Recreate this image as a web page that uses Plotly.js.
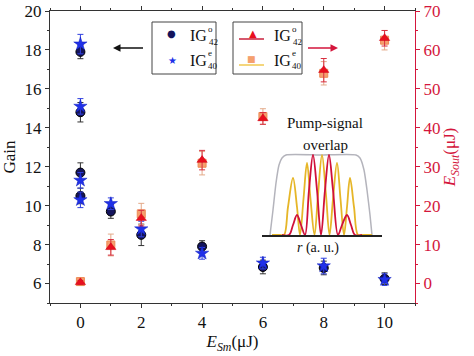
<!DOCTYPE html>
<html><head><meta charset="utf-8">
<script src="https://cdn.plot.ly/plotly-3.0.1.min.js"></script>
<style>html,body{margin:0;padding:0;background:#fff}#chart{width:474px;height:356px}</style>
</head><body><div id="chart"></div>
<script>
// ---- data ----
// Gain, left axis
const igO42_x   = [0, 0, 0, 0, 1, 2, 4, 6, 8, 10];
const igO42_y   = [17.9, 14.8, 11.7, 10.5, 9.7, 8.5, 7.9, 6.85, 6.8, 6.25];
const igO42_err = [0.35, 0.5, 0.5, 0.4, 0.35, 0.55, 0.3, 0.35, 0.35, 0.3];
const igE40_x   = [0, 0, 0, 0, 1, 2, 4, 6, 8, 10];
const igE40_y   = [18.3, 15.1, 11.3, 10.3, 10.1, 8.8, 7.55, 7.05, 6.9, 6.2];
const igE40_err = [0.5, 0.4, 0.4, 0.4, 0.3, 0.4, 0.3, 0.3, 0.4, 0.3];
// E_Sout (uJ), right axis
const eO42_x   = [0, 1, 2, 4, 6, 8, 10];
const eO42_y   = [0.3, 9.3, 16.8, 31.7, 42.4, 54.8, 63.0];
const eO42_err = [0.5, 2.0, 2.0, 2.5, 1.5, 3.0, 2.0];
const eE40_x   = [0, 1, 2, 4, 6, 8, 10];
const eE40_y   = [0.5, 9.9, 17.9, 30.9, 42.9, 54.0, 62.5];
const eE40_err = [0.8, 2.8, 2.7, 3.0, 2.0, 3.0, 2.5];
// tick values
const xTicks = [0, 2, 4, 6, 8, 10];
const yTicks = [6, 8, 10, 12, 14, 16, 18, 20];
const y2Ticks = [0, 10, 20, 30, 40, 50, 60, 70];
// Inset schematic (pump-signal overlap)
const pump_r = [270, 273, 276, 279, 282, 286, 320, 356, 360, 364, 367, 370, 372];
const pump_v = [0, 25, 52, 70, 77, 80, 80, 80, 77, 65, 45, 20, 0];
const sigE_r = [272, 280, 284, 288, 293, 297, 300, 303.5, 307, 310.5, 314.5, 318, 322, 326, 329.5, 333, 337, 340.5, 344, 347, 350, 354, 358, 362, 372];
const sigE_v = [0, 0, 0, 28, 57, 28, 0, 36, 72, 36, 0, 40, 80, 40, 0, 36, 72, 36, 0, 28, 57, 28, 0, 0, 0];
const sigO_r = [282, 289, 293, 297, 301, 305, 309, 313, 317, 321, 325, 329, 333, 338, 342, 347, 351, 355, 362];
const sigO_v = [0, 0, 10, 20, 10, 0, 45, 80, 45, 0, 45, 80, 45, 0, 10, 20, 10, 0, 0];

// ---- layout helpers (pixel -> paper) ----
const L = 50, R = 415, T = 11, B = 303;
const px = x => (x - L) / (R - L);
const py = y => (B - y) / (B - T);
const SERIF = '"Liberation Serif", "Times New Roman", Times, serif';
const RED = '#d4163c';

const traces = [
  {x: eE40_x, y: eE40_y, yaxis: 'y2', type: 'scatter', mode: 'markers',
   marker: {symbol: 'square', size: 8, color: '#f5a06e', line: {color: '#ee8a55', width: 1}},
   error_y: {type: 'data', array: eE40_err, color: '#e3a988', thickness: 1, width: 3}},
  {x: eO42_x, y: eO42_y, yaxis: 'y2', type: 'scatter', mode: 'markers',
   marker: {symbol: 'triangle-up', size: 9, color: '#e8101e', line: {color: '#d00018', width: 0.5}},
   error_y: {type: 'data', array: eO42_err, color: '#d83040', thickness: 1, width: 3}},
  {x: igO42_x, y: igO42_y, type: 'scatter', mode: 'markers',
   marker: {symbol: 'circle', size: 9, color: '#14145c', line: {color: '#000', width: 1}},
   error_y: {type: 'data', array: igO42_err, color: '#333', thickness: 1, width: 3}},
  {x: igE40_x, y: igE40_y, type: 'scatter', mode: 'markers',
   marker: {symbol: 'star', size: 10, color: '#2030e8', line: {color: '#1020c0', width: 0.5}},
   error_y: {type: 'data', array: igE40_err, color: '#3040e0', thickness: 1, width: 3}},
  // inset curves
  {x: pump_r, y: pump_v, xaxis: 'x3', yaxis: 'y3', type: 'scatter', mode: 'lines',
   line: {color: '#b4b4bc', width: 1.5, shape: 'spline', smoothing: 0.6}},
  {x: sigE_r, y: sigE_v, xaxis: 'x3', yaxis: 'y3', type: 'scatter', mode: 'lines',
   line: {color: '#e6b628', width: 1.8, shape: 'spline', smoothing: 1}},
  {x: sigO_r, y: sigO_v, xaxis: 'x3', yaxis: 'y3', type: 'scatter', mode: 'lines',
   line: {color: '#d0103a', width: 1.8, shape: 'spline', smoothing: 1}}
];

const ann = [];
function txt(x, y, text, size, color) {
  ann.push({xref: 'paper', yref: 'paper', x: px(x), y: py(y), text: text,
    showarrow: false, xanchor: 'center', yanchor: 'middle',
    font: {family: SERIF, size: size, color: color || '#111'}});
}
function glyph(x, y, g, size, color) {
  ann.push({xref: 'paper', yref: 'paper', x: px(x), y: py(y), text: g, showarrow: false,
    xanchor: 'center', yanchor: 'middle', font: {family: 'DejaVu Sans', size: size, color: color}});
}
// legend box 1
glyph(171, 34, '●', 10, '#14145c');
glyph(172, 60, '★', 10, '#2030e8');
txt(198, 35, 'IG', 16); txt(210, 29, 'o', 9); txt(213, 42, '42', 9);
txt(198, 60, 'IG', 16); txt(210, 53, 'e', 9); txt(213, 66, '40', 9);
// legend box 2
glyph(253, 34, '▲', 10, '#e8101e');
glyph(252, 59, '■', 9, '#f5a06e');
txt(282, 35, 'IG', 16); txt(294, 29, 'o', 9); txt(297, 42, '42', 9);
txt(282, 60, 'IG', 16); txt(294, 53, 'e', 9); txt(297, 66, '40', 9);
// arrows
ann.push({xref: 'paper', yref: 'paper', x: px(113), y: py(48), ax: 33, ay: 0, text: ' ',
  showarrow: true, arrowhead: 2, arrowsize: 1, arrowwidth: 1.5, arrowcolor: '#111'});
ann.push({xref: 'paper', yref: 'paper', x: px(338), y: py(48), ax: -33, ay: 0, text: ' ',
  showarrow: true, arrowhead: 2, arrowsize: 1, arrowwidth: 1.5, arrowcolor: RED});
// inset texts
txt(325, 123, 'Pump-signal', 15);
txt(325, 145, 'overlap', 15);
txt(318, 248, '<i>r</i> (a. u.)', 14);

const shapes = [
  {type: 'rect', xref: 'paper', yref: 'paper', x0: px(152), x1: px(216), y0: py(22), y1: py(74),
   line: {color: '#444', width: 1}},
  {type: 'rect', xref: 'paper', yref: 'paper', x0: px(233), x1: px(302), y0: py(22), y1: py(74),
   line: {color: '#444', width: 1}},
  {type: 'line', xref: 'paper', yref: 'paper', x0: px(239), x1: px(264), y0: py(39), y1: py(39),
   line: {color: '#c8203c', width: 1.5}},
  {type: 'line', xref: 'paper', yref: 'paper', x0: px(239), x1: px(264), y0: py(65), y1: py(65),
   line: {color: '#f0c850', width: 1.5}}
];

const axisFont = {family: SERIF, size: 17, color: '#111'};
const layout = {
  width: 474, height: 356,
  margin: {l: L, r: 474 - R, t: T, b: 356 - B, pad: 0},
  paper_bgcolor: '#fff', plot_bgcolor: 'rgba(0,0,0,0)',
  showlegend: false,
  font: {family: SERIF, color: '#111'},
  xaxis: {range: [-1, 11], tickvals: xTicks, ticks: 'outside', ticklen: 4, tickcolor: '#333',
    minor: {dtick: 1, tick0: 0, ticks: 'outside', ticklen: 2, tickcolor: '#333'},
    showline: true, linecolor: '#333', linewidth: 1, mirror: 'ticks', showgrid: false, zeroline: false,
    tickfont: axisFont,
    title: {text: '<i>E</i><sub><i>Sm</i></sub>(μJ)', font: {family: SERIF, size: 17, color: '#111'}, standoff: 2}},
  yaxis: {range: [5, 20], tickvals: yTicks, ticks: 'outside', ticklen: 4, tickcolor: '#333',
    minor: {dtick: 1, tick0: 5, ticks: 'outside', ticklen: 2, tickcolor: '#333'},
    showline: true, linecolor: '#333', linewidth: 1, showgrid: false, zeroline: false,
    tickfont: axisFont,
    title: {text: 'Gain', font: {family: SERIF, size: 17, color: '#111'}, standoff: 4}},
  yaxis2: {overlaying: 'y', side: 'right', range: [-5, 70], tickvals: y2Ticks,
    ticks: 'outside', ticklen: 4, tickcolor: RED,
    minor: {dtick: 5, tick0: 0, ticks: 'outside', ticklen: 2, tickcolor: RED},
    showline: true, linecolor: RED, linewidth: 1, showgrid: false, zeroline: false,
    tickfont: {family: SERIF, size: 17, color: RED},
    title: {text: '<i>E</i><sub><i>Sout</i></sub>(μJ)', font: {family: SERIF, size: 17, color: RED}, standoff: 3}},
  xaxis3: {domain: [px(262), px(382)], anchor: 'y3', range: [262, 382], showline: true,
    linecolor: '#222', linewidth: 1.5, showticklabels: false, ticks: '', showgrid: false, zeroline: false},
  yaxis3: {domain: [py(235), py(150)], anchor: 'x3', range: [0, 85], visible: false},
  annotations: ann,
  shapes: shapes
};

Plotly.newPlot('chart', traces, layout, {displayModeBar: false, staticPlot: true});
</script>
</body></html>
